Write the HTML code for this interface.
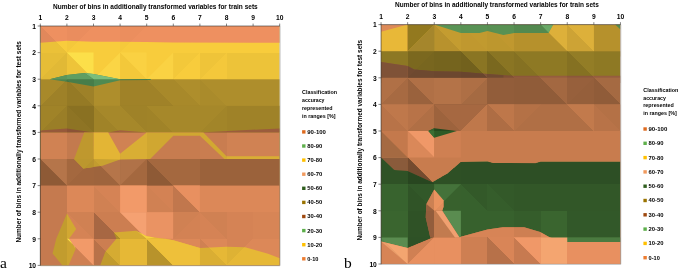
<!DOCTYPE html>
<html lang="en"><head><meta charset="utf-8"><title>Classification accuracy contour charts</title>
<style>
html,body{margin:0;padding:0;background:#fff;}
body{width:685px;height:273px;overflow:hidden;font-family:"Liberation Sans",sans-serif;}
svg{display:block;}
text{fill:#000;}
</style></head><body>
<svg width="685" height="273" viewBox="0 0 685 273">
<rect width="685" height="273" fill="#fff"/>
<clipPath id="clipa"><rect x="40.30" y="26.00" width="239.40" height="239.40"/></clipPath>
<g clip-path="url(#clipa)" shape-rendering="geometricPrecision">
<polygon points="40.30,26.00 279.70,26.00 279.70,265.40 40.30,265.40" fill="#F8CC3C"/>
<polygon points="40.30,26.00 279.70,26.00 279.70,42.76 173.30,42.49 146.70,41.96 120.10,41.69 93.50,41.69 66.90,40.76 40.30,42.76" fill="#EE9060"/>
<polygon points="66.90,52.60 93.50,52.60 93.50,79.20" fill="#FCDF49"/>
<polygon points="120.10,52.60 120.10,79.20 93.50,79.20" fill="#FBD545"/>
<polygon points="120.10,52.60 146.70,52.60 146.70,79.20" fill="#FAD142"/>
<polygon points="173.30,52.60 173.30,79.20 146.70,79.20" fill="#FAD243"/>
<polygon points="40.30,79.20 279.70,79.20 279.70,265.40 40.30,265.40" fill="#AE8E2C"/>
<polygon points="40.30,105.80 279.70,105.80 279.70,265.40 40.30,265.40" fill="#A6882A"/>
<polygon points="40.30,132.40 279.70,132.40 279.70,265.40 40.30,265.40" fill="#D08253"/>
<polygon points="40.30,159.00 279.70,159.00 279.70,265.40 40.30,265.40" fill="#A4683F"/>
<polygon points="40.30,159.00 66.90,159.00 66.90,185.60" fill="#B5754A"/>
<polygon points="93.50,159.00 120.10,159.00 120.10,185.60" fill="#B5754A"/>
<polygon points="120.10,159.00 146.70,159.00 120.10,185.60" fill="#B07248"/>
<polygon points="40.30,185.60 279.70,185.60 279.70,265.40 40.30,265.40" fill="#DC8858"/>
<polygon points="120.10,185.60 146.70,185.60 146.70,212.20 120.10,212.20" fill="#F29A69"/>
<polygon points="120.10,212.20 146.70,212.20 146.70,238.80" fill="#F5A172"/>
<polygon points="146.70,212.20 173.30,212.20 173.30,238.80 146.70,238.80" fill="#EA9363"/>
<polygon points="173.30,185.60 199.90,185.60 199.90,212.20" fill="#E89060"/>
<polygon points="66.90,238.80 93.50,238.80 93.50,265.40" fill="#F29A69"/>
<polygon points="49.61,79.20 66.90,74.94 84.46,73.08 93.50,73.88 120.10,79.20 150.69,78.93 150.69,80.00 120.10,80.26 93.50,86.38 66.90,81.86" fill="#4F8A52"/>
<polygon points="84.46,73.08 93.50,73.88 120.10,79.20 93.50,79.20" fill="#7BBD7C"/>
<polygon points="49.61,79.20 66.90,74.94 84.46,73.08 93.50,79.20" fill="#63A566"/>
<polygon points="40.30,130.54 66.90,128.41 93.50,132.40 40.30,132.40" fill="#A2603F"/>
<polygon points="108.13,132.40 120.10,130.27 146.70,132.40" fill="#A2603F"/>
<polygon points="199.90,132.40 279.70,128.41 279.70,132.40" fill="#A2603F"/>
<polygon points="84.19,132.40 93.50,132.40 93.50,166.98 83.39,168.58 74.08,159.00" fill="#CBA231"/>
<polygon points="93.50,145.70 120.10,153.68 120.10,159.53 102.54,165.65 93.50,166.98" fill="#C9A231"/>
<polygon points="93.50,132.40 108.13,132.40 120.10,153.68 120.10,159.53 93.50,159.00" fill="#E3B535"/>
<polygon points="74.08,159.00 93.50,159.00 93.50,166.98 83.39,168.58" fill="#BC972E"/>
<polygon points="120.10,153.68 146.70,132.40 173.30,132.40 199.90,132.40 203.36,132.40 226.50,156.34 279.70,156.34 279.70,159.00 224.37,159.00 199.90,135.86 173.30,135.86 150.16,159.00 120.10,159.53" fill="#D9AE34"/>
<polygon points="66.90,213.53 76.21,228.96 69.03,238.80 75.68,248.91 68.50,265.40 62.38,265.40 52.54,253.43 56.26,238.80" fill="#D9AE34"/>
<polygon points="66.90,238.80 69.03,238.80 75.68,248.91 74.88,246.78" fill="#FBDC48"/>
<polygon points="100.15,265.40 105.20,252.10 116.38,238.80 113.72,232.42 136.06,230.82 146.70,236.14 173.30,240.13 199.90,248.11 226.50,246.78 245.12,247.31 268.00,253.70 279.70,258.22 279.70,265.40" fill="#E6B836"/>
<polygon points="136.06,230.82 146.70,236.14 154.68,237.47 146.70,238.80" fill="#F6D040"/>
<polygon points="146.70,238.80 165.32,238.80 173.30,240.13 199.90,248.11 199.90,265.40 173.30,265.40" fill="#EEC03A"/>
<g shape-rendering="crispEdges">
<polygon points="40.30,26.00 40.30,52.60 66.90,52.60" fill="#000" fill-opacity="0.050"/>
<polygon points="66.90,26.00 93.50,26.00 66.90,52.60" fill="#000" fill-opacity="0.015"/>
<polygon points="120.10,26.00 146.70,26.00 120.10,52.60" fill="#000" fill-opacity="0.010"/>
<polygon points="40.30,52.60 66.90,52.60 40.30,79.20" fill="#000" fill-opacity="0.070"/><polygon points="66.90,52.60 66.90,79.20 40.30,79.20" fill="#000" fill-opacity="0.090"/>
<polygon points="66.90,52.60 66.90,79.20 93.50,79.20" fill="#000" fill-opacity="0.040"/>
<polygon points="120.10,52.60 120.10,79.20 146.70,79.20" fill="#000" fill-opacity="0.020"/>
<polygon points="173.30,52.60 199.90,52.60 173.30,79.20" fill="#000" fill-opacity="0.020"/>
<polygon points="199.90,52.60 226.50,52.60 199.90,79.20" fill="#000" fill-opacity="0.035"/><polygon points="226.50,52.60 226.50,79.20 199.90,79.20" fill="#000" fill-opacity="0.015"/>
<polygon points="226.50,52.60 253.10,52.60 226.50,79.20" fill="#000" fill-opacity="0.045"/><polygon points="253.10,52.60 253.10,79.20 226.50,79.20" fill="#000" fill-opacity="0.045"/>
<polygon points="253.10,52.60 279.70,52.60 253.10,79.20" fill="#000" fill-opacity="0.045"/><polygon points="279.70,52.60 279.70,79.20 253.10,79.20" fill="#000" fill-opacity="0.045"/>
<polygon points="40.30,79.20 66.90,79.20 40.30,105.80" fill="#000" fill-opacity="0.030"/><polygon points="66.90,79.20 66.90,105.80 40.30,105.80" fill="#000" fill-opacity="0.090"/>
<polygon points="66.90,79.20 93.50,79.20 93.50,105.80" fill="#000" fill-opacity="0.090"/><polygon points="66.90,79.20 66.90,105.80 93.50,105.80" fill="#000" fill-opacity="0.140"/>

<polygon points="120.10,79.20 146.70,79.20 146.70,105.80" fill="#000" fill-opacity="0.080"/><polygon points="120.10,79.20 120.10,105.80 146.70,105.80" fill="#000" fill-opacity="0.080"/>
<polygon points="146.70,79.20 173.30,79.20 173.30,105.80" fill="#000" fill-opacity="0.030"/><polygon points="146.70,79.20 146.70,105.80 173.30,105.80" fill="#000" fill-opacity="0.080"/>
<polygon points="173.30,79.20 173.30,105.80 199.90,105.80" fill="#000" fill-opacity="0.030"/>
<polygon points="199.90,79.20 199.90,105.80 226.50,105.80" fill="#000" fill-opacity="0.020"/>
<polygon points="40.30,105.80 66.90,105.80 40.30,132.40" fill="#000" fill-opacity="0.030"/><polygon points="66.90,105.80 66.90,132.40 40.30,132.40" fill="#000" fill-opacity="0.070"/>
<polygon points="66.90,105.80 93.50,105.80 93.50,132.40" fill="#000" fill-opacity="0.170"/><polygon points="66.90,105.80 66.90,132.40 93.50,132.40" fill="#000" fill-opacity="0.140"/>
<polygon points="93.50,105.80 93.50,132.40 120.10,132.40" fill="#000" fill-opacity="0.030"/>
<polygon points="120.10,105.80 146.70,105.80 146.70,132.40" fill="#000" fill-opacity="0.040"/>
<polygon points="146.70,105.80 146.70,132.40 173.30,132.40" fill="#000" fill-opacity="0.030"/>
<polygon points="226.50,105.80 226.50,132.40 199.90,132.40" fill="#000" fill-opacity="0.020"/>
<polygon points="226.50,105.80 253.10,105.80 226.50,132.40" fill="#000" fill-opacity="0.040"/><polygon points="253.10,105.80 253.10,132.40 226.50,132.40" fill="#000" fill-opacity="0.040"/>
<polygon points="253.10,105.80 279.70,105.80 253.10,132.40" fill="#000" fill-opacity="0.040"/><polygon points="279.70,105.80 279.70,132.40 253.10,132.40" fill="#000" fill-opacity="0.040"/>
<polygon points="66.90,132.40 93.50,132.40 93.50,159.00" fill="#000" fill-opacity="0.060"/><polygon points="66.90,132.40 66.90,159.00 93.50,159.00" fill="#000" fill-opacity="0.060"/>

<polygon points="146.70,132.40 173.30,132.40 146.70,159.00" fill="#000" fill-opacity="0.040"/><polygon points="173.30,132.40 173.30,159.00 146.70,159.00" fill="#000" fill-opacity="0.040"/>
<polygon points="173.30,132.40 199.90,132.40 173.30,159.00" fill="#000" fill-opacity="0.040"/><polygon points="199.90,132.40 199.90,159.00 173.30,159.00" fill="#000" fill-opacity="0.040"/>
<polygon points="199.90,132.40 226.50,132.40 199.90,159.00" fill="#000" fill-opacity="0.030"/><polygon points="226.50,132.40 226.50,159.00 199.90,159.00" fill="#000" fill-opacity="0.030"/>
<polygon points="40.30,159.00 40.30,185.60 66.90,185.60" fill="#000" fill-opacity="0.130"/>
<polygon points="93.50,159.00 93.50,185.60 66.90,185.60" fill="#000" fill-opacity="0.020"/>
<polygon points="93.50,159.00 93.50,185.60 120.10,185.60" fill="#000" fill-opacity="0.030"/>

<polygon points="146.70,159.00 146.70,185.60 173.30,185.60" fill="#000" fill-opacity="0.130"/>
<polygon points="199.90,159.00 226.50,159.00 199.90,185.60" fill="#000" fill-opacity="0.050"/><polygon points="226.50,159.00 226.50,185.60 199.90,185.60" fill="#000" fill-opacity="0.050"/>
<polygon points="226.50,159.00 253.10,159.00 226.50,185.60" fill="#000" fill-opacity="0.050"/><polygon points="253.10,159.00 253.10,185.60 226.50,185.60" fill="#000" fill-opacity="0.050"/>
<polygon points="253.10,159.00 279.70,159.00 253.10,185.60" fill="#000" fill-opacity="0.050"/><polygon points="279.70,159.00 279.70,185.60 253.10,185.60" fill="#000" fill-opacity="0.050"/>
<polygon points="40.30,185.60 66.90,185.60 66.90,212.20" fill="#000" fill-opacity="0.100"/><polygon points="40.30,185.60 40.30,212.20 66.90,212.20" fill="#000" fill-opacity="0.100"/>
<polygon points="93.50,185.60 120.10,185.60 120.10,212.20" fill="#000" fill-opacity="0.030"/><polygon points="93.50,185.60 93.50,212.20 120.10,212.20" fill="#000" fill-opacity="0.050"/>
<polygon points="146.70,185.60 173.30,185.60 173.30,212.20" fill="#000" fill-opacity="0.040"/><polygon points="146.70,185.60 146.70,212.20 173.30,212.20" fill="#000" fill-opacity="0.050"/>
<polygon points="173.30,185.60 173.30,212.20 199.90,212.20" fill="#000" fill-opacity="0.120"/>
<polygon points="40.30,212.20 66.90,212.20 66.90,238.80" fill="#000" fill-opacity="0.100"/><polygon points="40.30,212.20 40.30,238.80 66.90,238.80" fill="#000" fill-opacity="0.100"/>
<polygon points="66.90,212.20 93.50,212.20 93.50,238.80" fill="#000" fill-opacity="0.050"/><polygon points="66.90,212.20 66.90,238.80 93.50,238.80" fill="#000" fill-opacity="0.030"/>
<polygon points="93.50,212.20 120.10,212.20 120.10,238.80" fill="#000" fill-opacity="0.070"/><polygon points="93.50,212.20 93.50,238.80 120.10,238.80" fill="#000" fill-opacity="0.240"/>
<polygon points="120.10,212.20 120.10,238.80 146.70,238.80" fill="#000" fill-opacity="0.070"/>
<polygon points="173.30,212.20 199.90,212.20 173.30,238.80" fill="#000" fill-opacity="0.050"/><polygon points="199.90,212.20 199.90,238.80 173.30,238.80" fill="#000" fill-opacity="0.040"/>
<polygon points="199.90,212.20 226.50,212.20 226.50,238.80" fill="#000" fill-opacity="0.050"/><polygon points="199.90,212.20 199.90,238.80 226.50,238.80" fill="#000" fill-opacity="0.030"/>
<polygon points="226.50,212.20 253.10,212.20 253.10,238.80" fill="#000" fill-opacity="0.030"/><polygon points="226.50,212.20 226.50,238.80 253.10,238.80" fill="#000" fill-opacity="0.030"/>
<polygon points="253.10,212.20 279.70,212.20 279.70,238.80" fill="#000" fill-opacity="0.020"/><polygon points="253.10,212.20 253.10,238.80 279.70,238.80" fill="#000" fill-opacity="0.020"/>
<polygon points="40.30,238.80 66.90,238.80 66.90,265.40" fill="#000" fill-opacity="0.100"/><polygon points="40.30,238.80 40.30,265.40 66.90,265.40" fill="#000" fill-opacity="0.100"/>
<polygon points="66.90,238.80 66.90,265.40 93.50,265.40" fill="#000" fill-opacity="0.060"/>
<polygon points="93.50,238.80 120.10,238.80 120.10,265.40" fill="#000" fill-opacity="0.070"/><polygon points="93.50,238.80 93.50,265.40 120.10,265.40" fill="#000" fill-opacity="0.160"/>
<polygon points="146.70,238.80 146.70,265.40 173.30,265.40" fill="#000" fill-opacity="0.200"/>
<polygon points="199.90,238.80 199.90,265.40 226.50,265.40" fill="#000" fill-opacity="0.050"/>
<polygon points="226.50,238.80 253.10,238.80 226.50,265.40" fill="#000" fill-opacity="0.030"/>
</g>
</g>
<path d="M40.30 265.70 H280.00 V26.00" fill="none" stroke="#8a8a8a" stroke-width="0.7" stroke-opacity="0.8"/>
<path d="M40.00 26.00 H280.00 M40.30 25.70 V265.70 M40.30 26.00 v-2.4 M40.30 26.00 h-2.6 M66.90 26.00 v-2.4 M40.30 52.60 h-2.6 M93.50 26.00 v-2.4 M40.30 79.20 h-2.6 M120.10 26.00 v-2.4 M40.30 105.80 h-2.6 M146.70 26.00 v-2.4 M40.30 132.40 h-2.6 M173.30 26.00 v-2.4 M40.30 159.00 h-2.6 M199.90 26.00 v-2.4 M40.30 185.60 h-2.6 M226.50 26.00 v-2.4 M40.30 212.20 h-2.6 M253.10 26.00 v-2.4 M40.30 238.80 h-2.6 M279.70 26.00 v-2.4 M40.30 265.40 h-2.6" fill="none" stroke="#333" stroke-width="0.6"/>
<text x="40.30" y="20.10" font-size="6.70" font-weight="bold" text-anchor="middle" font-family='"Liberation Sans", sans-serif'>1</text>
<text x="36.10" y="28.80" font-size="6.70" font-weight="bold" text-anchor="end" font-family='"Liberation Sans", sans-serif'>1</text>
<text x="66.90" y="20.10" font-size="6.70" font-weight="bold" text-anchor="middle" font-family='"Liberation Sans", sans-serif'>2</text>
<text x="36.10" y="55.40" font-size="6.70" font-weight="bold" text-anchor="end" font-family='"Liberation Sans", sans-serif'>2</text>
<text x="93.50" y="20.10" font-size="6.70" font-weight="bold" text-anchor="middle" font-family='"Liberation Sans", sans-serif'>3</text>
<text x="36.10" y="82.00" font-size="6.70" font-weight="bold" text-anchor="end" font-family='"Liberation Sans", sans-serif'>3</text>
<text x="120.10" y="20.10" font-size="6.70" font-weight="bold" text-anchor="middle" font-family='"Liberation Sans", sans-serif'>4</text>
<text x="36.10" y="108.60" font-size="6.70" font-weight="bold" text-anchor="end" font-family='"Liberation Sans", sans-serif'>4</text>
<text x="146.70" y="20.10" font-size="6.70" font-weight="bold" text-anchor="middle" font-family='"Liberation Sans", sans-serif'>5</text>
<text x="36.10" y="135.20" font-size="6.70" font-weight="bold" text-anchor="end" font-family='"Liberation Sans", sans-serif'>5</text>
<text x="173.30" y="20.10" font-size="6.70" font-weight="bold" text-anchor="middle" font-family='"Liberation Sans", sans-serif'>6</text>
<text x="36.10" y="161.80" font-size="6.70" font-weight="bold" text-anchor="end" font-family='"Liberation Sans", sans-serif'>6</text>
<text x="199.90" y="20.10" font-size="6.70" font-weight="bold" text-anchor="middle" font-family='"Liberation Sans", sans-serif'>7</text>
<text x="36.10" y="188.40" font-size="6.70" font-weight="bold" text-anchor="end" font-family='"Liberation Sans", sans-serif'>7</text>
<text x="226.50" y="20.10" font-size="6.70" font-weight="bold" text-anchor="middle" font-family='"Liberation Sans", sans-serif'>8</text>
<text x="36.10" y="215.00" font-size="6.70" font-weight="bold" text-anchor="end" font-family='"Liberation Sans", sans-serif'>8</text>
<text x="253.10" y="20.10" font-size="6.70" font-weight="bold" text-anchor="middle" font-family='"Liberation Sans", sans-serif'>9</text>
<text x="36.10" y="241.60" font-size="6.70" font-weight="bold" text-anchor="end" font-family='"Liberation Sans", sans-serif'>9</text>
<text x="279.70" y="20.10" font-size="6.70" font-weight="bold" text-anchor="middle" font-family='"Liberation Sans", sans-serif'>10</text>
<text x="36.10" y="268.20" font-size="6.70" font-weight="bold" text-anchor="end" font-family='"Liberation Sans", sans-serif'>10</text>
<text x="155.40" y="9.30" font-size="6.60" font-weight="bold" text-anchor="middle" font-family='"Liberation Sans", sans-serif' textLength="204.60" lengthAdjust="spacingAndGlyphs">Number of bins in additionally transformed variables for train sets</text>
<g transform="translate(21.00 141.90) rotate(-90)"><text x="0.00" y="0.00" font-size="6.60" font-weight="bold" text-anchor="middle" font-family='"Liberation Sans", sans-serif' textLength="201.40" lengthAdjust="spacingAndGlyphs">Number of bins in additionally transformed variables for test sets</text></g>
<text x="302.00" y="93.90" font-size="6.20" font-weight="bold" text-anchor="start" font-family='"Liberation Sans", sans-serif' textLength="35.00" lengthAdjust="spacingAndGlyphs">Classification</text>
<text x="302.00" y="101.80" font-size="6.20" font-weight="bold" text-anchor="start" font-family='"Liberation Sans", sans-serif' textLength="22.50" lengthAdjust="spacingAndGlyphs">accuracy</text>
<text x="302.00" y="109.70" font-size="6.20" font-weight="bold" text-anchor="start" font-family='"Liberation Sans", sans-serif' textLength="30.50" lengthAdjust="spacingAndGlyphs">represented</text>
<text x="302.00" y="117.60" font-size="6.20" font-weight="bold" text-anchor="start" font-family='"Liberation Sans", sans-serif' textLength="33.50" lengthAdjust="spacingAndGlyphs">in ranges [%]</text>
<rect x="302.10" y="130.20" width="3.4" height="3.4" fill="#DE6A1F"/>
<text x="307.20" y="133.80" font-size="6.20" font-weight="bold" text-anchor="start" font-family='"Liberation Sans", sans-serif' textLength="18.80" lengthAdjust="spacingAndGlyphs">90-100</text>
<rect x="302.10" y="144.30" width="3.4" height="3.4" fill="#5FB04C"/>
<text x="307.20" y="147.90" font-size="6.20" font-weight="bold" text-anchor="start" font-family='"Liberation Sans", sans-serif' textLength="15.00" lengthAdjust="spacingAndGlyphs">80-90</text>
<rect x="302.10" y="158.40" width="3.4" height="3.4" fill="#FFC000"/>
<text x="307.20" y="162.00" font-size="6.20" font-weight="bold" text-anchor="start" font-family='"Liberation Sans", sans-serif' textLength="15.00" lengthAdjust="spacingAndGlyphs">70-80</text>
<rect x="302.10" y="172.50" width="3.4" height="3.4" fill="#F19A5E"/>
<text x="307.20" y="176.10" font-size="6.20" font-weight="bold" text-anchor="start" font-family='"Liberation Sans", sans-serif' textLength="15.00" lengthAdjust="spacingAndGlyphs">60-70</text>
<rect x="302.10" y="186.60" width="3.4" height="3.4" fill="#2F5E1E"/>
<text x="307.20" y="190.20" font-size="6.20" font-weight="bold" text-anchor="start" font-family='"Liberation Sans", sans-serif' textLength="15.00" lengthAdjust="spacingAndGlyphs">50-60</text>
<rect x="302.10" y="200.70" width="3.4" height="3.4" fill="#9A7300"/>
<text x="307.20" y="204.30" font-size="6.20" font-weight="bold" text-anchor="start" font-family='"Liberation Sans", sans-serif' textLength="15.00" lengthAdjust="spacingAndGlyphs">40-50</text>
<rect x="302.10" y="214.80" width="3.4" height="3.4" fill="#9E480E"/>
<text x="307.20" y="218.40" font-size="6.20" font-weight="bold" text-anchor="start" font-family='"Liberation Sans", sans-serif' textLength="15.00" lengthAdjust="spacingAndGlyphs">30-40</text>
<rect x="302.10" y="228.90" width="3.4" height="3.4" fill="#5CAE4A"/>
<text x="307.20" y="232.50" font-size="6.20" font-weight="bold" text-anchor="start" font-family='"Liberation Sans", sans-serif' textLength="15.00" lengthAdjust="spacingAndGlyphs">20-30</text>
<rect x="302.10" y="243.00" width="3.4" height="3.4" fill="#FFC000"/>
<text x="307.20" y="246.60" font-size="6.20" font-weight="bold" text-anchor="start" font-family='"Liberation Sans", sans-serif' textLength="15.00" lengthAdjust="spacingAndGlyphs">10-20</text>
<rect x="302.10" y="257.10" width="3.4" height="3.4" fill="#ED7D31"/>
<text x="307.20" y="260.70" font-size="6.20" font-weight="bold" text-anchor="start" font-family='"Liberation Sans", sans-serif' textLength="11.30" lengthAdjust="spacingAndGlyphs">0-10</text>
<text x="0.00" y="268.40" font-size="15.50" font-weight="normal" text-anchor="start" font-family='"Liberation Serif", serif'>a</text>
<clipPath id="clipb"><rect x="381.05" y="24.60" width="239.40" height="239.40"/></clipPath>
<g clip-path="url(#clipb)" shape-rendering="geometricPrecision">
<polygon points="381.05,24.60 620.45,24.60 620.45,264.00 381.05,264.00" fill="#E08A5A"/>
<polygon points="407.65,24.60 620.45,24.60 620.45,56.52 407.65,56.52" fill="#C49C30"/>
<polygon points="381.05,24.60 407.65,24.60 381.05,31.78" fill="#DD8A58"/>
<polygon points="381.05,31.78 407.65,24.60 407.65,56.52 381.05,56.52" fill="#E8B838"/>
<polygon points="407.65,24.60 434.25,24.60 407.65,51.20" fill="#93791F"/>
<polygon points="434.25,24.60 434.25,51.20 407.65,51.20" fill="#A5862C"/>
<polygon points="434.25,24.60 460.85,33.11 479.47,33.11 487.45,30.98 503.41,34.97 514.05,33.11 548.63,33.11 553.42,24.60" fill="#5A9455"/>
<polygon points="540.65,24.60 553.42,24.60 548.63,33.11" fill="#6AAA68"/>
<polygon points="553.42,24.60 593.85,24.60 593.85,51.20 567.25,51.20 548.63,33.11" fill="#DDB03A"/>
<polygon points="615.13,24.60 620.45,24.60 620.45,29.39" fill="#5A9455"/>
<polygon points="381.05,51.20 620.45,51.20 620.45,77.80 381.05,77.80" fill="#937D26"/>
<polygon points="381.05,62.11 407.65,66.10 414.30,69.55 434.25,71.15 460.85,71.68 487.45,74.08 514.05,75.67 620.45,75.67 620.45,83.12 381.05,83.12" fill="#9A6040"/>
<polygon points="407.65,66.10 414.30,69.55 434.25,71.15 460.85,71.68 487.45,74.08 503.41,75.14 503.41,83.12 407.65,83.12" fill="#87593B"/>
<polygon points="381.05,62.11 407.65,66.10 407.65,83.12 381.05,83.12" fill="#85563A"/>
<polygon points="381.05,77.80 620.45,77.80 620.45,264.00 381.05,264.00" fill="#B47348"/>
<polygon points="381.05,104.40 620.45,104.40 620.45,264.00 381.05,264.00" fill="#C27A4C"/>
<polygon points="381.05,131.00 620.45,131.00 620.45,264.00 381.05,264.00" fill="#C87C4E"/>
<polygon points="407.65,131.00 434.25,131.00 434.25,157.60" fill="#F09868"/>
<polygon points="407.65,131.00 407.65,157.60 434.25,157.60" fill="#DA8859"/>
<polygon points="434.25,131.00 460.85,131.00 460.85,157.60 434.25,157.60" fill="#CF8052"/>
<polygon points="428.40,131.00 434.25,128.34 456.86,131.00 434.25,137.65" fill="#2C5A26"/>
<polygon points="428.40,131.00 434.25,128.34 434.25,137.65" fill="#3A6E33"/>
<polygon points="381.05,131.00 407.65,157.60 407.65,170.90 394.35,170.10 381.05,157.60" fill="#A56A42"/>
<polygon points="381.05,157.60 407.65,157.60 407.65,170.90 394.35,170.10" fill="#A97048"/>
<polygon points="407.65,157.60 432.39,182.34 407.65,170.90" fill="#A86C44"/>
<polygon points="381.05,157.60 394.35,170.10 407.65,170.90 432.39,182.34 447.55,173.56 460.85,162.12 487.45,161.59 492.77,162.92 535.33,163.19 540.65,161.86 620.45,161.86 620.45,241.92 567.25,241.92 549.96,237.40 540.12,232.08 524.16,227.29 502.88,227.29 487.45,229.42 460.85,236.87 459.52,237.40 442.23,210.80 443.56,206.81 443.56,200.16 434.25,189.52 426.27,204.15 425.74,217.45 430.26,237.40 432.92,237.40 407.65,248.04 381.05,241.39" fill="#3A652F"/>
<polygon points="434.25,184.20 460.85,184.20 443.56,201.49 434.25,189.52" fill="#44723A"/>
<polygon points="442.23,210.80 460.85,210.80 460.85,236.87 459.52,237.40" fill="#5A8C50"/>
<polygon points="381.05,237.40 407.65,237.40 407.65,248.04 381.05,241.39" fill="#5A8C50"/>
<polygon points="567.25,237.40 620.45,237.40 620.45,241.92 567.25,241.92 549.96,237.40" fill="#4A7A40"/>
<polygon points="381.05,241.39 407.65,248.04 432.92,237.40 459.52,237.40 460.85,236.87 487.45,229.42 502.88,227.29 524.16,227.29 540.12,232.08 549.96,237.40 567.25,241.92 620.45,241.92 620.45,264.00 381.05,264.00" fill="#E08A5A"/>
<polygon points="381.05,241.39 407.65,248.04 407.65,264.00" fill="#F4A570"/>
<polygon points="434.25,237.40 434.25,264.00 407.65,264.00" fill="#E89060"/>
<polygon points="434.25,237.40 460.85,237.40 460.85,264.00 434.25,264.00" fill="#E89060"/>
<polygon points="514.05,237.40 540.65,237.40 540.65,264.00" fill="#F09868"/>
<polygon points="540.65,237.40 567.25,237.40 567.25,264.00 540.65,264.00" fill="#F4A570"/>
<polygon points="567.25,241.92 620.45,241.92 620.45,264.00 567.25,264.00" fill="#E89060"/>
<polygon points="434.25,189.52 443.56,200.16 443.56,206.81 442.23,210.80 434.25,210.80 426.27,204.15" fill="#E9935F"/>
<polygon points="426.27,204.15 434.25,210.80 434.25,237.40 430.26,237.40 425.74,217.45" fill="#B5734A"/>
<polygon points="434.25,210.80 442.23,210.80 459.52,237.40 434.25,237.40" fill="#C27B4F"/>
<polygon points="435.58,210.80 442.23,210.80 459.52,237.40 455.00,237.40" fill="#F0A070"/>
<g shape-rendering="crispEdges">
<polygon points="434.25,24.60 434.25,51.20 460.85,51.20" fill="#000" fill-opacity="0.060"/>
<polygon points="460.85,24.60 487.45,24.60 487.45,51.20" fill="#000" fill-opacity="0.010"/><polygon points="460.85,24.60 460.85,51.20 487.45,51.20" fill="#000" fill-opacity="0.020"/>
<polygon points="487.45,24.60 514.05,24.60 514.05,51.20" fill="#000" fill-opacity="0.020"/><polygon points="487.45,24.60 487.45,51.20 514.05,51.20" fill="#000" fill-opacity="0.030"/>
<polygon points="514.05,24.60 540.65,24.60 540.65,51.20" fill="#000" fill-opacity="0.070"/><polygon points="514.05,24.60 514.05,51.20 540.65,51.20" fill="#000" fill-opacity="0.070"/>
<polygon points="540.65,24.60 540.65,51.20 567.25,51.20" fill="#000" fill-opacity="0.070"/>
<polygon points="567.25,24.60 567.25,51.20 593.85,51.20" fill="#000" fill-opacity="0.070"/>
<polygon points="593.85,24.60 620.45,24.60 620.45,51.20" fill="#000" fill-opacity="0.070"/><polygon points="593.85,24.60 593.85,51.20 620.45,51.20" fill="#000" fill-opacity="0.070"/>
<polygon points="381.05,51.20 407.65,51.20 381.05,77.80" fill="#000" fill-opacity="0.040"/><polygon points="407.65,51.20 407.65,77.80 381.05,77.80" fill="#000" fill-opacity="0.040"/>
<polygon points="407.65,51.20 434.25,51.20 407.65,77.80" fill="#000" fill-opacity="0.160"/><polygon points="434.25,51.20 434.25,77.80 407.65,77.80" fill="#000" fill-opacity="0.180"/>
<polygon points="434.25,51.20 460.85,51.20 460.85,77.80" fill="#000" fill-opacity="0.200"/><polygon points="434.25,51.20 434.25,77.80 460.85,77.80" fill="#000" fill-opacity="0.200"/>
<polygon points="460.85,51.20 487.45,51.20 487.45,77.80" fill="#000" fill-opacity="0.060"/><polygon points="460.85,51.20 460.85,77.80 487.45,77.80" fill="#000" fill-opacity="0.220"/>
<polygon points="487.45,51.20 514.05,51.20 514.05,77.80" fill="#000" fill-opacity="0.060"/><polygon points="487.45,51.20 487.45,77.80 514.05,77.80" fill="#000" fill-opacity="0.170"/>
<polygon points="514.05,51.20 540.65,51.20 540.65,77.80" fill="#000" fill-opacity="0.030"/><polygon points="514.05,51.20 514.05,77.80 540.65,77.80" fill="#000" fill-opacity="0.090"/>
<polygon points="540.65,51.20 567.25,51.20 567.25,77.80" fill="#000" fill-opacity="0.030"/><polygon points="540.65,51.20 540.65,77.80 567.25,77.80" fill="#000" fill-opacity="0.030"/>
<polygon points="567.25,51.20 567.25,77.80 593.85,77.80" fill="#000" fill-opacity="0.090"/>
<polygon points="593.85,51.20 620.45,51.20 620.45,77.80" fill="#000" fill-opacity="0.030"/><polygon points="593.85,51.20 593.85,77.80 620.45,77.80" fill="#000" fill-opacity="0.030"/>
<polygon points="381.05,77.80 407.65,77.80 381.05,104.40" fill="#000" fill-opacity="0.020"/><polygon points="407.65,77.80 407.65,104.40 381.05,104.40" fill="#000" fill-opacity="0.070"/>
<polygon points="407.65,77.80 434.25,77.80 434.25,104.40" fill="#000" fill-opacity="0.020"/><polygon points="407.65,77.80 407.65,104.40 434.25,104.40" fill="#000" fill-opacity="0.140"/>
<polygon points="460.85,77.80 487.45,77.80 460.85,104.40" fill="#000" fill-opacity="0.030"/><polygon points="487.45,77.80 487.45,104.40 460.85,104.40" fill="#000" fill-opacity="0.080"/>
<polygon points="487.45,77.80 514.05,77.80 514.05,104.40" fill="#000" fill-opacity="0.190"/><polygon points="487.45,77.80 487.45,104.40 514.05,104.40" fill="#000" fill-opacity="0.190"/>
<polygon points="514.05,77.80 540.65,77.80 540.65,104.40" fill="#000" fill-opacity="0.200"/><polygon points="514.05,77.80 514.05,104.40 540.65,104.40" fill="#000" fill-opacity="0.200"/>
<polygon points="540.65,77.80 567.25,77.80 567.25,104.40" fill="#000" fill-opacity="0.090"/><polygon points="540.65,77.80 540.65,104.40 567.25,104.40" fill="#000" fill-opacity="0.200"/>
<polygon points="567.25,77.80 593.85,77.80 567.25,104.40" fill="#000" fill-opacity="0.160"/><polygon points="593.85,77.80 593.85,104.40 567.25,104.40" fill="#000" fill-opacity="0.170"/>
<polygon points="593.85,77.80 620.45,77.80 620.45,104.40" fill="#000" fill-opacity="0.080"/><polygon points="593.85,77.80 593.85,104.40 620.45,104.40" fill="#000" fill-opacity="0.200"/>
<polygon points="381.05,104.40 407.65,104.40 407.65,131.00" fill="#000" fill-opacity="0.010"/><polygon points="381.05,104.40 381.05,131.00 407.65,131.00" fill="#000" fill-opacity="0.050"/>
<polygon points="407.65,104.40 434.25,104.40 407.65,131.00" fill="#000" fill-opacity="0.050"/><polygon points="434.25,104.40 434.25,131.00 407.65,131.00" fill="#000" fill-opacity="0.090"/>
<polygon points="434.25,104.40 460.85,104.40 460.85,131.00" fill="#000" fill-opacity="0.140"/><polygon points="434.25,104.40 434.25,131.00 460.85,131.00" fill="#000" fill-opacity="0.190"/>
<polygon points="460.85,104.40 487.45,104.40 460.85,131.00" fill="#000" fill-opacity="0.140"/><polygon points="487.45,104.40 487.45,131.00 460.85,131.00" fill="#000" fill-opacity="0.010"/>
<polygon points="487.45,104.40 514.05,104.40 514.05,131.00" fill="#000" fill-opacity="0.020"/><polygon points="487.45,104.40 487.45,131.00 514.05,131.00" fill="#000" fill-opacity="0.100"/>
<polygon points="514.05,104.40 540.65,104.40 514.05,131.00" fill="#000" fill-opacity="0.070"/><polygon points="540.65,104.40 540.65,131.00 514.05,131.00" fill="#000" fill-opacity="0.090"/>
<polygon points="540.65,104.40 567.25,104.40 540.65,131.00" fill="#000" fill-opacity="0.090"/><polygon points="567.25,104.40 567.25,131.00 540.65,131.00" fill="#000" fill-opacity="0.090"/>
<polygon points="567.25,104.40 567.25,131.00 593.85,131.00" fill="#000" fill-opacity="0.090"/>
<polygon points="593.85,104.40 620.45,104.40 620.45,131.00" fill="#000" fill-opacity="0.070"/><polygon points="593.85,104.40 593.85,131.00 620.45,131.00" fill="#000" fill-opacity="0.050"/>
<polygon points="381.05,131.00 407.65,131.00 407.65,157.60" fill="#000" fill-opacity="0.020"/>
<polygon points="381.05,157.60 407.65,157.60 407.65,184.20" fill="#000" fill-opacity="0.180"/><polygon points="381.05,157.60 381.05,184.20 407.65,184.20" fill="#000" fill-opacity="0.180"/>
<polygon points="407.65,157.60 407.65,184.20 434.25,184.20" fill="#000" fill-opacity="0.300"/>
<polygon points="432.39,182.34 447.55,173.56 460.85,162.12 460.85,184.20 434.25,184.20" fill="#000" fill-opacity="0.200"/>
<polygon points="460.85,162.12 487.45,161.59 492.77,162.92 535.33,163.19 540.65,161.86 620.45,161.86 620.45,184.20 460.85,184.20" fill="#000" fill-opacity="0.210"/>
<polygon points="381.05,184.20 407.65,184.20 407.65,210.80" fill="#000" fill-opacity="0.020"/><polygon points="381.05,184.20 381.05,210.80 407.65,210.80" fill="#000" fill-opacity="0.020"/>
<polygon points="407.65,184.20 434.25,184.20 434.25,210.80" fill="#000" fill-opacity="0.120"/><polygon points="407.65,184.20 407.65,210.80 434.25,210.80" fill="#000" fill-opacity="0.170"/>
<polygon points="460.85,184.20 460.85,210.80 434.25,210.80" fill="#000" fill-opacity="0.030"/>
<polygon points="460.85,184.20 487.45,184.20 487.45,210.80" fill="#000" fill-opacity="0.110"/><polygon points="460.85,184.20 460.85,210.80 487.45,210.80" fill="#000" fill-opacity="0.040"/>
<polygon points="487.45,184.20 514.05,184.20 514.05,210.80" fill="#000" fill-opacity="0.110"/><polygon points="487.45,184.20 487.45,210.80 514.05,210.80" fill="#000" fill-opacity="0.080"/>
<polygon points="514.05,184.20 620.45,184.20 620.45,210.80 514.05,210.80" fill="#000" fill-opacity="0.130"/>
<polygon points="407.65,210.80 434.25,210.80 434.25,237.40" fill="#000" fill-opacity="0.190"/><polygon points="407.65,210.80 407.65,237.40 434.25,237.40" fill="#000" fill-opacity="0.190"/>
<polygon points="460.85,210.80 487.45,210.80 487.45,237.40" fill="#000" fill-opacity="0.040"/><polygon points="460.85,210.80 460.85,237.40 487.45,237.40" fill="#000" fill-opacity="0.040"/>
<polygon points="514.05,210.80 540.65,210.80 540.65,237.40" fill="#000" fill-opacity="0.080"/><polygon points="514.05,210.80 514.05,237.40 540.65,237.40" fill="#000" fill-opacity="0.080"/>
<polygon points="567.25,210.80 593.85,210.80 593.85,237.40" fill="#000" fill-opacity="0.120"/><polygon points="567.25,210.80 567.25,237.40 593.85,237.40" fill="#000" fill-opacity="0.120"/>
<polygon points="593.85,210.80 620.45,210.80 620.45,237.40" fill="#000" fill-opacity="0.120"/><polygon points="593.85,210.80 593.85,237.40 620.45,237.40" fill="#000" fill-opacity="0.120"/>
<polygon points="407.65,237.40 432.92,237.40 407.65,248.04" fill="#000" fill-opacity="0.120"/>
<polygon points="381.05,237.40 381.05,264.00 407.65,264.00" fill="#000" fill-opacity="0.040"/>
<polygon points="407.65,237.40 434.25,237.40 407.65,264.00" fill="#000" fill-opacity="0.070"/>
<polygon points="460.85,237.40 487.45,237.40 487.45,264.00" fill="#000" fill-opacity="0.080"/><polygon points="460.85,237.40 460.85,264.00 487.45,264.00" fill="#000" fill-opacity="0.080"/>
<polygon points="487.45,237.40 514.05,237.40 514.05,264.00" fill="#000" fill-opacity="0.030"/><polygon points="487.45,237.40 487.45,264.00 514.05,264.00" fill="#000" fill-opacity="0.180"/>
<polygon points="514.05,237.40 514.05,264.00 540.65,264.00" fill="#000" fill-opacity="0.110"/>
<polygon points="487.45,210.80 514.05,210.80 514.05,237.40" fill="#000" fill-opacity="0.040"/><polygon points="487.45,210.80 487.45,237.40 514.05,237.40" fill="#000" fill-opacity="0.040"/>

</g>
</g>
<path d="M381.05 264.30 H620.75 V24.60" fill="none" stroke="#8a8a8a" stroke-width="0.7" stroke-opacity="0.8"/>
<path d="M380.75 24.60 H620.75 M381.05 24.30 V264.30 M381.05 24.60 v-2.4 M381.05 24.60 h-2.6 M407.65 24.60 v-2.4 M381.05 51.20 h-2.6 M434.25 24.60 v-2.4 M381.05 77.80 h-2.6 M460.85 24.60 v-2.4 M381.05 104.40 h-2.6 M487.45 24.60 v-2.4 M381.05 131.00 h-2.6 M514.05 24.60 v-2.4 M381.05 157.60 h-2.6 M540.65 24.60 v-2.4 M381.05 184.20 h-2.6 M567.25 24.60 v-2.4 M381.05 210.80 h-2.6 M593.85 24.60 v-2.4 M381.05 237.40 h-2.6 M620.45 24.60 v-2.4 M381.05 264.00 h-2.6" fill="none" stroke="#333" stroke-width="0.6"/>
<text x="381.05" y="18.70" font-size="6.70" font-weight="bold" text-anchor="middle" font-family='"Liberation Sans", sans-serif'>1</text>
<text x="376.85" y="27.40" font-size="6.70" font-weight="bold" text-anchor="end" font-family='"Liberation Sans", sans-serif'>1</text>
<text x="407.65" y="18.70" font-size="6.70" font-weight="bold" text-anchor="middle" font-family='"Liberation Sans", sans-serif'>2</text>
<text x="376.85" y="54.00" font-size="6.70" font-weight="bold" text-anchor="end" font-family='"Liberation Sans", sans-serif'>2</text>
<text x="434.25" y="18.70" font-size="6.70" font-weight="bold" text-anchor="middle" font-family='"Liberation Sans", sans-serif'>3</text>
<text x="376.85" y="80.60" font-size="6.70" font-weight="bold" text-anchor="end" font-family='"Liberation Sans", sans-serif'>3</text>
<text x="460.85" y="18.70" font-size="6.70" font-weight="bold" text-anchor="middle" font-family='"Liberation Sans", sans-serif'>4</text>
<text x="376.85" y="107.20" font-size="6.70" font-weight="bold" text-anchor="end" font-family='"Liberation Sans", sans-serif'>4</text>
<text x="487.45" y="18.70" font-size="6.70" font-weight="bold" text-anchor="middle" font-family='"Liberation Sans", sans-serif'>5</text>
<text x="376.85" y="133.80" font-size="6.70" font-weight="bold" text-anchor="end" font-family='"Liberation Sans", sans-serif'>5</text>
<text x="514.05" y="18.70" font-size="6.70" font-weight="bold" text-anchor="middle" font-family='"Liberation Sans", sans-serif'>6</text>
<text x="376.85" y="160.40" font-size="6.70" font-weight="bold" text-anchor="end" font-family='"Liberation Sans", sans-serif'>6</text>
<text x="540.65" y="18.70" font-size="6.70" font-weight="bold" text-anchor="middle" font-family='"Liberation Sans", sans-serif'>7</text>
<text x="376.85" y="187.00" font-size="6.70" font-weight="bold" text-anchor="end" font-family='"Liberation Sans", sans-serif'>7</text>
<text x="567.25" y="18.70" font-size="6.70" font-weight="bold" text-anchor="middle" font-family='"Liberation Sans", sans-serif'>8</text>
<text x="376.85" y="213.60" font-size="6.70" font-weight="bold" text-anchor="end" font-family='"Liberation Sans", sans-serif'>8</text>
<text x="593.85" y="18.70" font-size="6.70" font-weight="bold" text-anchor="middle" font-family='"Liberation Sans", sans-serif'>9</text>
<text x="376.85" y="240.20" font-size="6.70" font-weight="bold" text-anchor="end" font-family='"Liberation Sans", sans-serif'>9</text>
<text x="620.45" y="18.70" font-size="6.70" font-weight="bold" text-anchor="middle" font-family='"Liberation Sans", sans-serif'>10</text>
<text x="376.85" y="266.80" font-size="6.70" font-weight="bold" text-anchor="end" font-family='"Liberation Sans", sans-serif'>10</text>
<text x="496.90" y="6.80" font-size="6.60" font-weight="bold" text-anchor="middle" font-family='"Liberation Sans", sans-serif' textLength="203.80" lengthAdjust="spacingAndGlyphs">Number of bins in additionally transformed variables for train sets</text>
<g transform="translate(362.30 140.30) rotate(-90)"><text x="0.00" y="0.00" font-size="6.60" font-weight="bold" text-anchor="middle" font-family='"Liberation Sans", sans-serif' textLength="200.60" lengthAdjust="spacingAndGlyphs">Number of bins in additionally transformed variables for test sets</text></g>
<text x="643.30" y="91.90" font-size="6.20" font-weight="bold" text-anchor="start" font-family='"Liberation Sans", sans-serif' textLength="35.00" lengthAdjust="spacingAndGlyphs">Classification</text>
<text x="643.30" y="99.60" font-size="6.20" font-weight="bold" text-anchor="start" font-family='"Liberation Sans", sans-serif' textLength="22.50" lengthAdjust="spacingAndGlyphs">accuracy</text>
<text x="643.30" y="107.30" font-size="6.20" font-weight="bold" text-anchor="start" font-family='"Liberation Sans", sans-serif' textLength="30.50" lengthAdjust="spacingAndGlyphs">represented</text>
<text x="643.30" y="115.00" font-size="6.20" font-weight="bold" text-anchor="start" font-family='"Liberation Sans", sans-serif' textLength="33.50" lengthAdjust="spacingAndGlyphs">in ranges [%]</text>
<rect x="643.40" y="127.30" width="3.4" height="3.4" fill="#DE6A1F"/>
<text x="648.50" y="130.90" font-size="6.20" font-weight="bold" text-anchor="start" font-family='"Liberation Sans", sans-serif' textLength="18.80" lengthAdjust="spacingAndGlyphs">90-100</text>
<rect x="643.40" y="141.60" width="3.4" height="3.4" fill="#5FB04C"/>
<text x="648.50" y="145.20" font-size="6.20" font-weight="bold" text-anchor="start" font-family='"Liberation Sans", sans-serif' textLength="15.00" lengthAdjust="spacingAndGlyphs">80-90</text>
<rect x="643.40" y="155.90" width="3.4" height="3.4" fill="#FFC000"/>
<text x="648.50" y="159.50" font-size="6.20" font-weight="bold" text-anchor="start" font-family='"Liberation Sans", sans-serif' textLength="15.00" lengthAdjust="spacingAndGlyphs">70-80</text>
<rect x="643.40" y="170.20" width="3.4" height="3.4" fill="#F19A5E"/>
<text x="648.50" y="173.80" font-size="6.20" font-weight="bold" text-anchor="start" font-family='"Liberation Sans", sans-serif' textLength="15.00" lengthAdjust="spacingAndGlyphs">60-70</text>
<rect x="643.40" y="184.50" width="3.4" height="3.4" fill="#2F5E1E"/>
<text x="648.50" y="188.10" font-size="6.20" font-weight="bold" text-anchor="start" font-family='"Liberation Sans", sans-serif' textLength="15.00" lengthAdjust="spacingAndGlyphs">50-60</text>
<rect x="643.40" y="198.80" width="3.4" height="3.4" fill="#9A7300"/>
<text x="648.50" y="202.40" font-size="6.20" font-weight="bold" text-anchor="start" font-family='"Liberation Sans", sans-serif' textLength="15.00" lengthAdjust="spacingAndGlyphs">40-50</text>
<rect x="643.40" y="213.10" width="3.4" height="3.4" fill="#9E480E"/>
<text x="648.50" y="216.70" font-size="6.20" font-weight="bold" text-anchor="start" font-family='"Liberation Sans", sans-serif' textLength="15.00" lengthAdjust="spacingAndGlyphs">30-40</text>
<rect x="643.40" y="227.40" width="3.4" height="3.4" fill="#5CAE4A"/>
<text x="648.50" y="231.00" font-size="6.20" font-weight="bold" text-anchor="start" font-family='"Liberation Sans", sans-serif' textLength="15.00" lengthAdjust="spacingAndGlyphs">20-30</text>
<rect x="643.40" y="241.70" width="3.4" height="3.4" fill="#FFC000"/>
<text x="648.50" y="245.30" font-size="6.20" font-weight="bold" text-anchor="start" font-family='"Liberation Sans", sans-serif' textLength="15.00" lengthAdjust="spacingAndGlyphs">10-20</text>
<rect x="643.40" y="256.00" width="3.4" height="3.4" fill="#ED7D31"/>
<text x="648.50" y="259.60" font-size="6.20" font-weight="bold" text-anchor="start" font-family='"Liberation Sans", sans-serif' textLength="11.30" lengthAdjust="spacingAndGlyphs">0-10</text>
<text x="344.00" y="268.40" font-size="15.50" font-weight="normal" text-anchor="start" font-family='"Liberation Serif", serif'>b</text>
</svg>
</body></html>
